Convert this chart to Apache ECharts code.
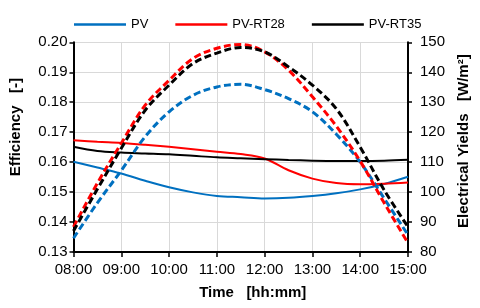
<!DOCTYPE html>
<html>
<head>
<meta charset="utf-8">
<script src="https://cdn.jsdelivr.net/npm/echarts@6/dist/echarts.min.js"></script>
<style>html,body{margin:0;padding:0;background:#fff}#c{width:480px;height:308px}</style>
</head>
<body>
<div id="c"></div>
<script>
var times = ['08:00','08:30','09:00','09:30','10:00','10:30','11:00','11:30','12:00','12:30','13:00','13:30','14:00','14:30','15:00'];
// Efficiency [-] (left axis)
var effPV     = [0.1601,0.1582,0.1562,0.1538,0.1516,0.1499,0.1487,0.1483,0.1479,0.1481,0.1487,0.1496,0.1509,0.1527,0.1551];
var effRT28   = [0.1673,0.1668,0.1664,0.1658,0.1651,0.1643,0.1635,0.1627,0.1612,0.1573,0.1545,0.1530,0.1526,0.1528,0.1532];
var effRT35   = [0.1651,0.1637,0.1632,0.1629,0.1626,0.1621,0.1616,0.1613,0.1610,0.1607,0.1605,0.1604,0.1604,0.1605,0.1608];
// Electrical yields [W/m2] (right axis)
var yldPV     = [84.6,96.4,107.2,118.5,126.8,132.3,135.1,136.0,134.2,131.2,126.8,119.3,110.0,97.9,85.7];
var yldRT28   = [88.4,103.0,116.3,129.0,137.3,144.6,148.0,149.3,146.8,140.7,131.8,122.0,110.3,96.4,83.0];
var yldRT35   = [87.0,101.0,114.6,127.3,135.7,142.9,146.4,148.3,146.8,141.8,135.7,127.8,115.0,100.7,88.4];
var seriesNames = ['PV','PV-RT28','PV-RT35'];
var leftTicks = {min:0.13, max:0.20, interval:0.01};
var rightTicks = {min:80, max:150, interval:10};

var colors = ['#0070C0','#FF0000','#000000'];
var effData = [effPV, effRT28, effRT35];
var yldData = [yldPV, yldRT28, yldRT35];
var font = 'Liberation Sans, Arial, sans-serif';

var series = [];
for (var i = 0; i < 3; i++) {
  series.push({
    name: seriesNames[i], type: 'line', yAxisIndex: 0, data: effData[i],
    smooth: 0.35, showSymbol: false, symbol: 'none',
    lineStyle: {color: colors[i], width: 2}, itemStyle: {color: colors[i]}
  });
}
for (var j = 0; j < 3; j++) {
  series.push({
    name: seriesNames[j] + ' yield', type: 'line', yAxisIndex: 1, data: yldData[j],
    smooth: 0.35, showSymbol: false, symbol: 'none',
    lineStyle: {color: colors[j], width: 3, type: [7, 3.5]}, itemStyle: {color: colors[j]}
  });
}

var chart = echarts.init(document.getElementById('c'), null, {renderer: 'canvas'});
chart.setOption({
  animation: false,
  backgroundColor: '#fff',
  textStyle: {fontFamily: font},
  legend: {
    data: seriesNames, left: 69, top: 13, icon: 'rect', itemWidth: 52, itemHeight: 2.5, itemGap: 27,
    textStyle: {fontSize: 13, color: '#000', fontFamily: font}
  },
  grid: {left: 73.5, right: 72, top: 42.3, bottom: 56, containLabel: false},
  xAxis: {
    type: 'category', data: times, boundaryGap: false,
    name: 'Time   [hh:mm]', nameLocation: 'middle', nameGap: 33,
    nameTextStyle: {fontSize: 15, fontWeight: 'bold', color: '#000', fontFamily: font, padding: [0, 0, 0, 24]},
    axisLine: {lineStyle: {color: '#000', width: 2}},
    axisTick: {show: true, interval: 1, length: 5, lineStyle: {color: '#000', width: 1.5}},
    axisLabel: {interval: 1, fontSize: 15, color: '#000', margin: 10, fontFamily: font},
    splitLine: {show: true, interval: 1, lineStyle: {color: '#D9D9D9', width: 1}}
  },
  yAxis: [{
    type: 'value', min: leftTicks.min, max: leftTicks.max, interval: leftTicks.interval,
    name: 'Efficiency   [-]', nameLocation: 'middle', nameGap: 50, nameRotate: 90,
    nameTextStyle: {fontSize: 15, fontWeight: 'bold', color: '#000', fontFamily: font, padding: [0, 0, 0, 40]},
    axisLine: {show: true, lineStyle: {color: '#000', width: 2}},
    axisTick: {show: true, length: 4, lineStyle: {color: '#000', width: 1.5}},
    axisLabel: {fontSize: 15, color: '#000', margin: 6, fontFamily: font, formatter: function(v){return v.toFixed(2);}},
    splitLine: {show: true, lineStyle: {color: '#D9D9D9', width: 1}}
  }, {
    type: 'value', position: 'right', min: rightTicks.min, max: rightTicks.max, interval: rightTicks.interval,
    name: 'Electrical Yields   [W/m²]', nameLocation: 'middle', nameGap: 48, nameRotate: 90,
    nameTextStyle: {fontSize: 15, fontWeight: 'bold', color: '#000', fontFamily: font, padding: [0, 0, 0, 12]},
    axisLine: {show: true, lineStyle: {color: '#000', width: 2}},
    axisTick: {show: true, length: 4, lineStyle: {color: '#000', width: 1.5}},
    axisLabel: {fontSize: 15, color: '#000', margin: 12, fontFamily: font},
    splitLine: {show: false}
  }],
  series: series
});
</script>
</body>
</html>
